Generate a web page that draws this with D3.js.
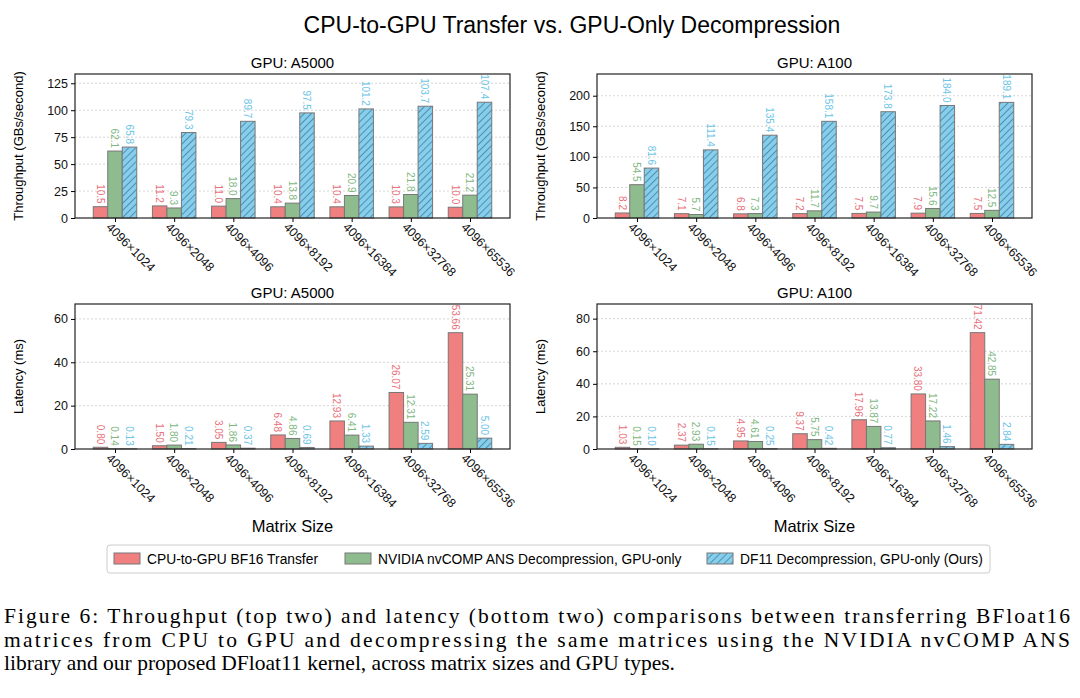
<!DOCTYPE html>
<html><head><meta charset="utf-8">
<script src="https://cdn.jsdelivr.net/npm/d3@7"></script>
<style>body{margin:0;background:#fff}</style>
</head><body>
<svg id="c" width="1080" height="698"></svg>
<script>
const categories = ["4096×1024","4096×2048","4096×4096","4096×8192","4096×16384","4096×32768","4096×65536"];
const seriesNames = ["CPU-to-GPU BF16 Transfer","NVIDIA nvCOMP ANS Decompression, GPU-only","DF11 Decompression, GPU-only (Ours)"];
const a5000ThrCpu = [10.5,11.2,11.0,10.4,10.4,10.3,10.0];
const a5000ThrNv  = [62.1,9.3,18.0,13.8,20.9,21.8,21.2];
const a5000ThrDf  = [65.8,79.3,89.7,97.5,101.2,103.7,107.4];
const a100ThrCpu  = [8.2,7.1,6.8,7.2,7.5,7.9,7.5];
const a100ThrNv   = [54.5,5.7,7.3,11.7,9.7,15.6,12.5];
const a100ThrDf   = [81.6,111.4,135.4,158.1,173.8,184.0,189.1];
const a5000LatCpu = [0.80,1.50,3.05,6.48,12.93,26.07,53.66];
const a5000LatNv  = [0.14,1.80,1.86,4.86,6.41,12.31,25.31];
const a5000LatDf  = [0.13,0.21,0.37,0.69,1.33,2.59,5.00];
const a100LatCpu  = [1.03,2.37,4.95,9.37,17.96,33.80,71.42];
const a100LatNv   = [0.15,2.93,4.61,5.75,13.87,17.22,42.85];
const a100LatDf   = [0.10,0.15,0.25,0.42,0.77,1.46,2.84];
const thrTicksA5000 = [0,25,50,75,100,125];
const thrTicksA100 = [0,50,100,150,200];
const latTicksA5000 = [0,20,40,60];
const latTicksA100 = [0,20,40,60,80];

const svg = d3.select("#c");
const F = "Liberation Sans, Arial, sans-serif";
const fills = ["#f08080","#8fbc8f","#87ceeb"];
const labCol = ["#e8707a","#7fb77f","#6cc4e6"];
const defs = svg.append("defs");
const pat = defs.append("pattern").attr("id","hatch").attr("patternUnits","userSpaceOnUse")
  .attr("width",5).attr("height",5).attr("patternTransform","rotate(45)");
pat.append("rect").attr("width",5).attr("height",5).attr("fill","#87ceeb");
pat.append("line").attr("x1",0).attr("y1",0).attr("x2",0).attr("y2",5).attr("stroke","#3f7fa6").attr("stroke-width",1.6);

svg.append("text").attr("x",572).attr("y",33).attr("text-anchor","middle").attr("font-family",F).attr("font-size",23).text("CPU-to-GPU Transfer vs. GPU-Only Decompression");

function panel(x0,x1,y0,y1,maxY,ticks,title,ylab,data,dec,showX){
  const g = svg.append("g");
  const y = d3.scaleLinear().domain([0,maxY]).range([y1,y0]);
  const x = d3.scalePoint().domain(categories).range([x0+40,x1-40]);
  const bw = 14.5;
  g.append("g").selectAll("line").data(ticks.filter(t=>t>0)).join("line")
    .attr("x1",x0).attr("x2",x1).attr("y1",d=>y(d)).attr("y2",d=>y(d))
    .attr("stroke","#ccc").attr("stroke-dasharray","2,2").attr("stroke-width",0.8);
  data.forEach((s,si)=>{
    g.append("g").selectAll("rect").data(s).join("rect")
      .attr("x",(d,i)=>x(categories[i])+(si-1.5)*bw).attr("width",bw)
      .attr("y",d=>y(d)).attr("height",d=>y1-y(d))
      .attr("fill",si===2?"url(#hatch)":fills[si]).attr("stroke","#777").attr("stroke-width",1);
    g.append("g").selectAll("text").data(s).join("text")
      .attr("transform",(d,i)=>`translate(${x(categories[i])+(si-1)*bw-4},${y(d)-3}) rotate(90)`)
      .attr("text-anchor","end").attr("font-family",F).attr("font-size",10).attr("fill",labCol[si])
      .text(d=>d.toFixed(dec));
  });
  g.append("rect").attr("x",x0).attr("y",y0).attr("width",x1-x0).attr("height",y1-y0).attr("fill","none").attr("stroke","#222").attr("stroke-width",1.2);
  const ya = g.append("g").attr("transform",`translate(${x0},0)`).call(d3.axisLeft(y).tickValues(ticks).tickSize(4).tickPadding(3));
  ya.select(".domain").remove();
  ya.selectAll("text").attr("font-family",F).attr("font-size",12.5).attr("fill","#111");
  const xa = g.append("g").attr("transform",`translate(0,${y1})`).call(d3.axisBottom(x).tickSize(4));
  xa.select(".domain").remove();
  xa.selectAll("text").attr("font-family",F).attr("font-size",12.5).attr("fill","#111")
    .attr("text-anchor","start").attr("transform","translate(-4,4) rotate(45)").attr("dy","0.35em").attr("y",4);
  g.append("text").attr("x",(x0+x1)/2).attr("y",y0-6).attr("text-anchor","middle").attr("font-family",F).attr("font-size",15).text(title);
  g.append("text").attr("transform",`translate(${x0-52},${(y0+y1)/2}) rotate(-90)`).attr("text-anchor","middle").attr("font-family",F).attr("font-size",13).text(ylab);
  if(showX) g.append("text").attr("x",(x0+x1)/2).attr("y",532).attr("text-anchor","middle").attr("font-family",F).attr("font-size",16.5).text("Matrix Size");
}
panel(75,510,74,218,133.6,thrTicksA5000,"GPU: A5000","Throughput (GBs/second)",[a5000ThrCpu,a5000ThrNv,a5000ThrDf],1,false);
panel(597,1032,74,218,235.5,thrTicksA100,"GPU: A100","Throughput (GBs/second)",[a100ThrCpu,a100ThrNv,a100ThrDf],1,false);
panel(75,510,304,449,66.9,latTicksA5000,"GPU: A5000","Latency (ms)",[a5000LatCpu,a5000LatNv,a5000LatDf],2,true);
panel(597,1032,304,449,89,latTicksA100,"GPU: A100","Latency (ms)",[a100LatCpu,a100LatNv,a100LatDf],2,true);

// legend
const lg = svg.append("g");
lg.append("rect").attr("x",107).attr("y",545).attr("width",883).attr("height",28).attr("rx",3).attr("fill","#fff").attr("stroke","#ccc");
const lx = [114,345,707];
seriesNames.forEach((n,i)=>{
  lg.append("rect").attr("x",lx[i]).attr("y",553).attr("width",26).attr("height",11)
    .attr("fill",i===2?"url(#hatch)":fills[i]).attr("stroke","#777");
  lg.append("text").attr("x",lx[i]+33).attr("y",564).attr("font-family",F).attr("font-size",13.8).text(n);
});
// caption
const cap = ["Figure 6: Throughput (top two) and latency (bottom two) comparisons between transferring BFloat16",
 "matrices from CPU to GPU and decompressing the same matrices using the NVIDIA nvCOMP ANS",
 "library and our proposed DFloat11 kernel, across matrix sizes and GPU types."];
cap.forEach((t,i)=>svg.append("text").attr("x",4).attr("y",623+i*23.5).attr("font-family","Liberation Serif, Times New Roman, serif").attr("font-size",21.5)
  .attr("textLength",i<2?1066:null).attr("lengthAdjust","spacing").text(t));
</script>
</body></html>
